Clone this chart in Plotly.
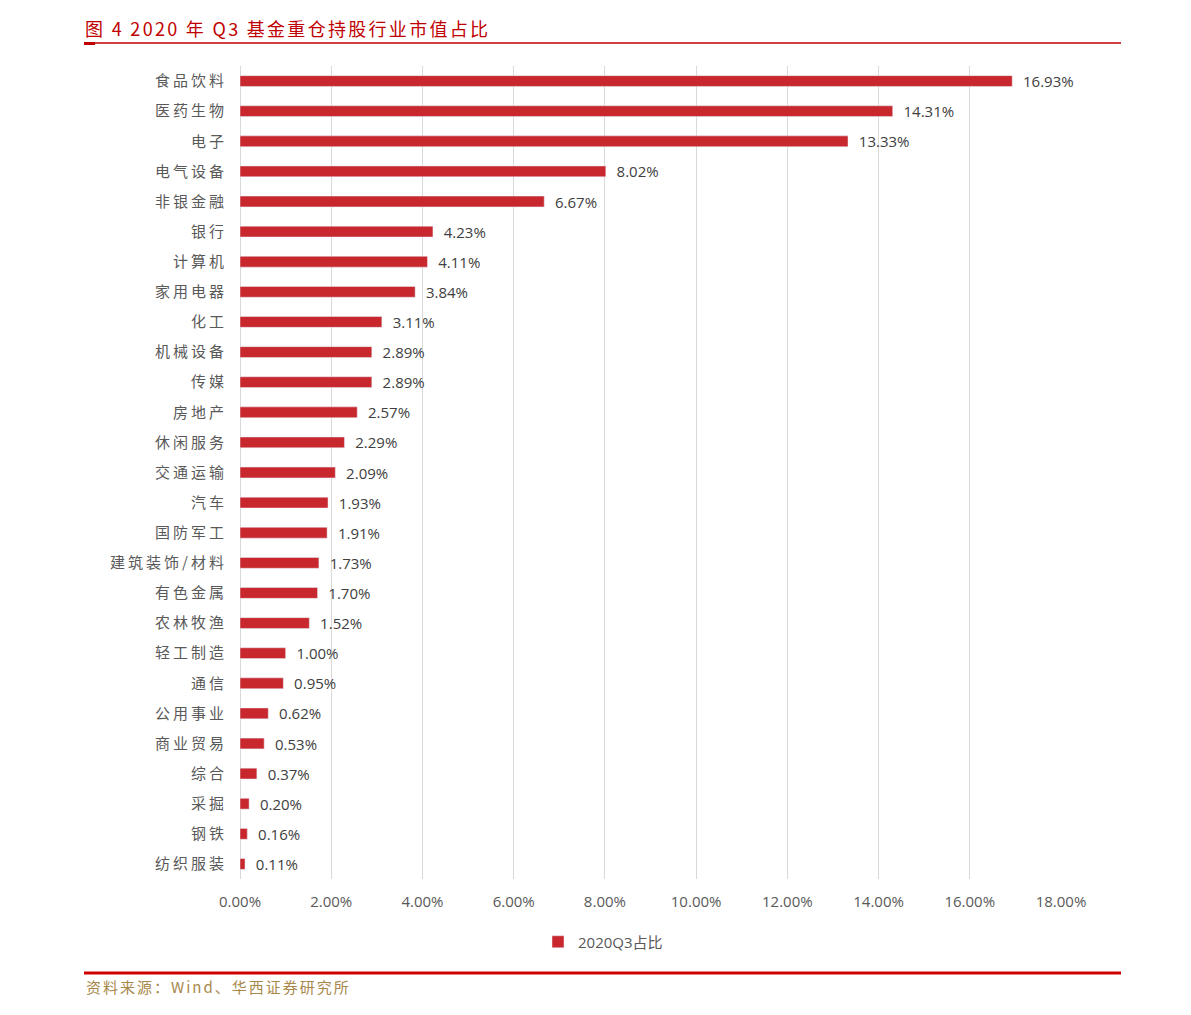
import plotly.graph_objects as go

categories = ["食品饮料", "医药生物", "电子", "电气设备", "非银金融", "银行", "计算机", "家用电器",
              "化工", "机械设备", "传媒", "房地产", "休闲服务", "交通运输", "汽车", "国防军工",
              "建筑装饰/材料", "有色金属", "农林牧渔", "轻工制造", "通信", "公用事业", "商业贸易",
              "综合", "采掘", "钢铁", "纺织服装"]
values = [16.93, 14.31, 13.33, 8.02, 6.67, 4.23, 4.11, 3.84, 3.11, 2.89, 2.89, 2.57, 2.29, 2.09,
          1.93, 1.91, 1.73, 1.70, 1.52, 1.00, 0.95, 0.62, 0.53, 0.37, 0.20, 0.16, 0.11]
tick_vals = [0, 2, 4, 6, 8, 10, 12, 14, 16, 18]
tick_text = ["0.00%", "2.00%", "4.00%", "6.00%", "8.00%", "10.00%", "12.00%", "14.00%", "16.00%", "18.00%"]
series_name = "2020Q3占比"
title_text = "图 4 2020 年 Q3 基金重仓持股行业市值占比"
source_text = "资料来源：Wind、华西证券研究所"

W, H = 1191, 1015
fig = go.Figure()
fig.add_trace(go.Bar(
    y=categories, x=values, orientation="h", name=series_name,
    marker=dict(color="#C8282D"), width=0.36,
    text=["\u00a0\u00a0" + f"{v:.2f}%" for v in values], textposition="outside",
    constraintext="none",
    textfont=dict(family="Open Sans, sans-serif", size=15, color="#404040"),
    cliponaxis=False, showlegend=True,
))
fig.update_layout(
    width=W, height=H,
    margin=dict(l=240, r=130, t=66, b=136),
    paper_bgcolor="white", plot_bgcolor="white",
    xaxis=dict(range=[0, 18], tickvals=tick_vals, ticktext=tick_text,
               showgrid=True, gridcolor="#D9D9D9", gridwidth=1,
               zeroline=True, zerolinecolor="#D9D9D9", zerolinewidth=1,
               showline=False, ticks="", ticklabelstandoff=12,
               tickfont=dict(family="Open Sans, sans-serif", size=15, color="#595959")),
    yaxis=dict(autorange="reversed", showline=False, ticks="", ticklabelstandoff=12,
               tickfont=dict(family="Noto Sans CJK SC", size=15, color="#595959"),
               showgrid=False),
    legend=dict(orientation="h", xref="container", yref="container",
                x=603 / W, xanchor="center", y=1 - 942 / H, yanchor="middle",
                font=dict(family="Open Sans, Noto Sans CJK SC", size=15, color="#595959"),
                itemwidth=30),
    showlegend=True,
)
def px_x(p):
    return (p - 240) / 821
def px_y(p):
    return 1 - (p - 66) / 813
# title and source (offset compensates the letter-spacing added below)
fig.add_annotation(text=title_text, xref="paper", yref="paper", x=px_x(85 + 28),
                   y=px_y(28), xanchor="left", yanchor="middle", showarrow=False,
                   font=dict(family="Noto Sans CJK SC", size=18, color="#C00000"))
fig.add_annotation(text=source_text, xref="paper", yref="paper", x=px_x(85 + 16),
                   y=px_y(986), xanchor="left", yanchor="middle", showarrow=False,
                   font=dict(family="Noto Sans CJK SC", size=15, color="#A8884A"))
# decorative rules
fig.add_shape(type="line", xref="paper", yref="paper", x0=px_x(84), x1=px_x(1121),
              y0=px_y(43), y1=px_y(43), line=dict(color="#C00000", width=1.5))
fig.add_shape(type="line", xref="paper", yref="paper", x0=px_x(84), x1=px_x(95),
              y0=px_y(43.5), y1=px_y(43.5), line=dict(color="#C00000", width=3))
fig.add_shape(type="line", xref="paper", yref="paper", x0=px_x(84), x1=px_x(1121),
              y0=px_y(973), y1=px_y(973), line=dict(color="#D00000", width=3))

post = """
function sp(){
  document.querySelectorAll('.ytick text').forEach(function(t){t.style.letterSpacing='3px';});
  var a = document.querySelectorAll('.annotation-text');
  if (a.length > 0) a[0].style.letterSpacing = '2.3px';
  if (a.length > 1) a[1].style.letterSpacing = '2px';
}
sp();
var gd = document.getElementById('{plot_id}');
if (gd && gd.on) gd.on('plotly_afterplot', sp);
"""
fig.write_html("out.html", post_script=post)
